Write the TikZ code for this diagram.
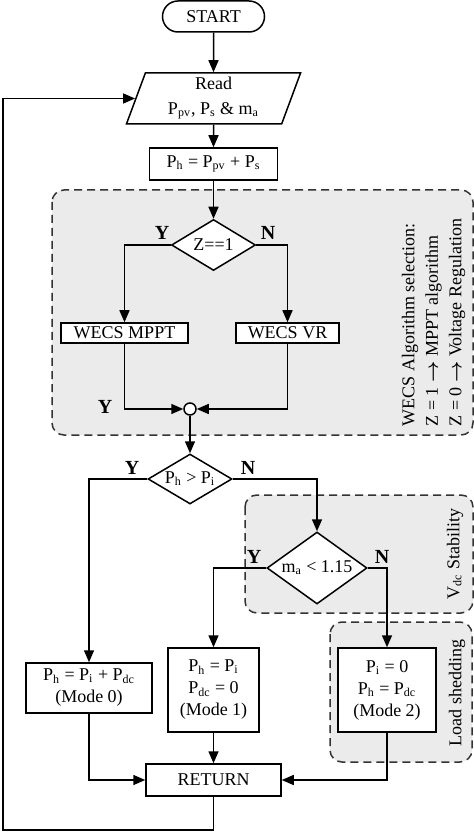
\documentclass[tikz,border=0pt]{standalone}
\usepackage{amsmath}
\usepackage{fontspec}
\setmainfont{Liberation Serif}
\usepackage{tikz}
\usetikzlibrary{positioning,shapes.geometric,shapes.misc,arrows.meta}
\tikzset{
  term/.style={draw, rounded rectangle, fill=white, minimum width=53pt, minimum height=15.5pt, inner sep=1pt},
  io/.style={draw, trapezium, trapezium left angle=74, trapezium right angle=106, trapezium stretches=true, fill=white, align=center, inner sep=1pt},
  proc/.style={draw, fill=white, align=center, inner sep=0.5pt},
  dec/.style={draw, diamond, fill=white, inner sep=0pt},
  junc/.style={draw, circle, fill=white, inner sep=0pt, minimum size=6pt},
  yn/.style={font=\bfseries, inner sep=0pt},
  region/.style={draw=black!80, fill=black!8, dash pattern=on 4pt off 2.5pt, rounded corners=6pt},
  side/.style={rotate=90, inner sep=0pt, align=left},
}
\newcommand{\subtx}[1]{\textsubscript{#1}}
\newcommand{\selarrow}{$\boldsymbol{\rightarrow}$}

\begin{document}
\begin{tikzpicture}[x=0.5pt, y=-0.5pt, >={Triangle[length=6pt,width=5pt]}, line width=0.75pt, font=\fontsize{9}{11}\selectfont]
\useasboundingbox (0,0) rectangle (474,833);

% shaded groups
\draw[region] (52,190) rectangle (473,435);
\draw[region] (245,495) rectangle (473,613);
\draw[region] (330,622) rectangle (472,762);

\node (start) [term] at (213.5,16.5) {START};
\node (read)  [io, minimum width=87.5pt, minimum height=25.5pt] at (213.5,98.5) {Read\\[1.5pt]P\subtx{pv}, P\subtx{s} \& m\subtx{a}};
\node (ph)    [proc, minimum width=64pt, minimum height=16pt] at (213.5,164) {P\subtx{h} = P\subtx{pv} + P\subtx{s}};
\node (zsel)  [dec, aspect=1.65, minimum width=42pt, minimum height=25.5pt] at (213.5,245) {Z==1};
\node (mppt)  [proc, minimum width=63.5pt, minimum height=10pt] at (124.5,333) {WECS MPPT};
\node (vr)    [proc, minimum width=51.5pt, minimum height=10pt] at (287.5,333) {WECS VR};
\node (join)  [junc] at (190,409) {};
\node (pcmp)  [dec, aspect=1.68, minimum width=42pt, minimum height=25pt] at (190,479) {P\subtx{h} > P\subtx{i}};
\node (mcmp)  [dec, aspect=1.39, minimum width=50pt, minimum height=36pt] at (317,568) {m\subtx{a} < 1.15};
\node (mode0) [proc, minimum width=63pt, minimum height=25pt] at (89,688) {P\subtx{h} = P\subtx{i} + P\subtx{dc}\\(Mode 0)};
\node (mode1) [proc, minimum width=45.5pt, minimum height=42pt] at (213.5,690) {P\subtx{h} = P\subtx{i}\\P\subtx{dc} = 0\\(Mode 1)};
\node (mode2) [proc, minimum width=49pt, minimum height=42pt] at (387,690) {P\subtx{i} = 0\\P\subtx{h} = P\subtx{dc}\\(Mode 2)};
\node (ret)   [proc, minimum width=67.5pt, minimum height=16pt] at (213.5,780) {RETURN};

% group captions
\node (wecsnote) [side, anchor=west] at (433.5,427) {WECS Algorithm selection:\\[0.75pt]Z = 1 \selarrow{} MPPT algorithm\\[0.75pt]Z = 0 \selarrow{} Voltage Regulation};
\node (vdcnote)  [side] at (455,554) {V\subtx{dc} Stability};
\node (loadnote) [side] at (457,693) {Load shedding};

% branch labels
\node (zY) [yn] at (162,233) {Y};
\node (zN) [yn] at (268,233) {N};
\node (jY) [yn] at (105,407) {Y};
\node (pY) [yn] at (132,468) {Y};
\node (pN) [yn] at (248,468) {N};
\node (mY) [yn] at (254,557) {Y};
\node (mN) [yn] at (382,557) {N};

% main path
\draw[->] (start) -- (read);
\draw[->] (read) -- (ph);
\draw[->] (ph) -- (zsel);
\draw[->] (zsel.west) -| (mppt.north);
\draw[->] (zsel.east) -| (vr.north);
\draw[->] (mppt.south) |- (join.west);
\draw[->] (vr.south) |- (join.east);
\draw[->] (join) -- (pcmp);

% modes
\draw[->] (pcmp.west) -| (mode0.north);
\draw[->] (pcmp.east) -| (mcmp.north);
\draw[->] (mcmp.west) -| (mode1.north);
\draw[->] (mcmp.east) -| (mode2.north);
\draw[->] (mode0.south) |- (ret.west);
\draw[->] (mode1) -- (ret);
\draw[->] (mode2.south) |- (ret.east);

% loop back
\coordinate (lp) at (3,830);
\draw[->] (ret.south) |- (lp) |- (read.west);
\end{tikzpicture}
\end{document}
